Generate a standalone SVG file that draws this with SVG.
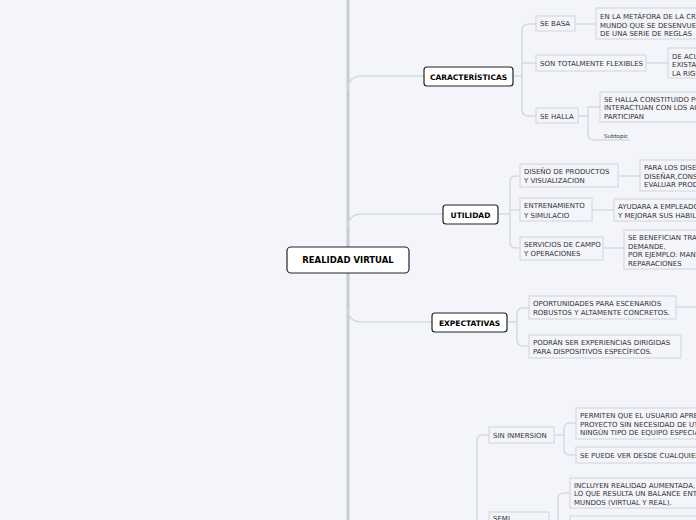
<svg xmlns="http://www.w3.org/2000/svg" width="696" height="520" viewBox="0 0 696 520">
<style>
text{font-family:"DejaVu Sans",Verdana,sans-serif;font-size:7px;fill:#333}
.m{font-weight:bold;font-size:7.5px;fill:#000}
.n{fill:#fff;stroke:#222;stroke-width:1.2}
.s{fill:#f3f5fb;stroke:#dcdfe6;stroke-width:1.5}
.c{fill:none;stroke:#d6d9df;stroke-width:1.5}
</style>
<rect width="696" height="520" fill="#f3f5fb"/>
<g id="connectors">
<path d="M348 0V520" stroke="#c8cbd0" stroke-width="3" fill="none"/>
<path class="c" d="M348 90Q348 76 362 76H424M348 228Q348 214 362 214H443M348 308Q348 322 362 322H432"/>
<path class="c" d="M513 76H522M522 30Q522 24 530 24H536M522 30V110Q522 116 530 116H536M522 63H536"/>
<path class="c" d="M575 24H596M646 63H668M578 116H588V107H600M588 116V134Q588 140 594 140H630"/>
<path class="c" d="M498 214H510M510 182Q510 176 516 176H520M510 182V242Q510 248 516 248H520M510 210H520"/>
<path class="c" d="M618 176H640M592 210H614M603 248H624"/>
<path class="c" d="M507 322H517M517 314Q517 308 523 308H529M517 314V340Q517 346 523 346H529M676 307H696"/>
<path class="c" d="M477 520V441Q477 435 483 435H489M554 435H564M564 429Q564 423 570 423H576M564 429V449Q564 455 570 455H576"/>
<path class="c" d="M558 520V499Q558 493 564 493H570"/>
</g>
<g id="center"><rect class="n" x="287" y="247" width="122" height="26" rx="4"/><text class="m" x="348" y="263" text-anchor="middle" style="font-size:8.5px">REALIDAD VIRTUAL</text></g>
<g id="caracteristicas"><rect class="n" x="424" y="67" width="89" height="19" rx="3"/><text class="m" x="468.5" y="79.5" text-anchor="middle">CARACTERÍSTICAS</text></g>
<g id="sebasa"><rect class="s" x="536" y="16" width="39" height="15"/><text x="540" y="26">SE BASA</text></g>
<g id="sebasa-t"><rect class="s" x="596" y="8" width="110" height="31"/><text x="600" y="19">EN LA METÁFORA DE LA CREACIÓN DE UN</text><text x="600" y="27.5">MUNDO QUE SE DESENVUELVE A PARTIR</text><text x="600" y="36">DE UNA SERIE DE REGLAS</text></g>
<g id="flex"><rect class="s" x="536" y="55" width="110" height="16"/><text x="540" y="66">SON TOTALMENTE FLEXIBLES</text></g>
<g id="flex-t"><rect class="s" x="668" y="48" width="40" height="30"/><text x="672" y="58.5">DE ACUERDO</text><text x="672" y="67">EXISTA</text><text x="672" y="75.5">LA RIGIDEZ</text></g>
<g id="sehalla"><rect class="s" x="536" y="108" width="42" height="15"/><text x="540" y="118.5">SE HALLA</text></g>
<g id="sehalla-t"><rect class="s" x="600" y="92" width="110" height="30"/><text x="604" y="101.5">SE HALLA CONSTITUIDO POR</text><text x="604" y="110">INTERACTUAN CON LOS AGENTES QUE</text><text x="604" y="118.5">PARTICIPAN</text></g>
<g id="subtopic"><text x="604" y="138" style="font-size:5.5px">Subtopic</text></g>
<g id="utilidad"><rect class="n" x="443" y="205" width="55" height="19" rx="3"/><text class="m" x="470.5" y="217.5" text-anchor="middle">UTILIDAD</text></g>
<g id="diseno"><rect class="s" x="520" y="164" width="98" height="23"/><text x="524" y="174">DISEÑO DE PRODUCTOS</text><text x="524" y="182.5">Y VISUALIZACION</text></g>
<g id="diseno-t"><rect class="s" x="640" y="160" width="70" height="31"/><text x="644" y="170">PARA LOS DISEÑADORES</text><text x="644" y="178.5">DISEÑAR,CONSTRUIR</text><text x="644" y="187">EVALUAR PRODUCTOS</text></g>
<g id="entren"><rect class="s" x="520" y="198" width="72" height="23"/><text x="524" y="208">ENTRENAMIENTO</text><text x="524" y="217.5">Y SIMULACIO</text></g>
<g id="entren-t"><rect class="s" x="614" y="199" width="96" height="22"/><text x="618" y="208.5">AYUDARA A EMPLEADOS</text><text x="618" y="217.5">Y MEJORAR SUS HABILIDADES</text></g>
<g id="servicios"><rect class="s" x="520" y="237" width="83" height="23"/><text x="524" y="247">SERVICIOS DE CAMPO</text><text x="524" y="255.5">Y OPERACIONES</text></g>
<g id="servicios-t"><rect class="s" x="624" y="230" width="86" height="39"/><text x="628" y="240">SE BENEFICIAN TRABAJOS</text><text x="628" y="248.5">DEMANDE,</text><text x="628" y="257">POR EJEMPLO: MANTENIMIENTO</text><text x="628" y="265.5">REPARACIONES</text></g>
<g id="expectativas"><rect class="n" x="432" y="313" width="75" height="19" rx="3"/><text class="m" x="469.5" y="325.5" text-anchor="middle">EXPECTATIVAS</text></g>
<g id="oport"><rect class="s" x="529" y="296" width="147" height="23"/><text x="533" y="306">OPORTUNIDADES PARA ESCENARIOS</text><text x="533" y="314.5">ROBUSTOS Y ALTAMENTE CONCRETOS.</text></g>
<g id="podran"><rect class="s" x="529" y="335" width="152" height="23"/><text x="533" y="345">PODRÁN SER EXPERIENCIAS DIRIGIDAS</text><text x="533" y="353.5">PARA DISPOSITIVOS ESPECÍFICOS.</text></g>
<g id="sininmersion"><rect class="s" x="489" y="427" width="65" height="16"/><text x="493" y="438">SIN INMERSION</text></g>
<g id="permiten"><rect class="s" x="576" y="408" width="130" height="31"/><text x="580" y="418">PERMITEN QUE EL USUARIO APRECIE EL</text><text x="580" y="426.5">PROYECTO SIN NECESIDAD DE UTILIZAR</text><text x="580" y="435">NINGÚN TIPO DE EQUIPO ESPECIAL</text></g>
<g id="sepuede"><rect class="s" x="576" y="447" width="130" height="16"/><text x="580" y="457.5">SE PUEDE VER DESDE CUALQUIER</text></g>
<g id="semi"><rect class="s" x="489" y="512" width="60" height="16"/><text x="493" y="520.5">SEMI</text></g>
<g id="incluyen"><rect class="s" x="570" y="478" width="136" height="30"/><text x="574" y="487.5">INCLUYEN REALIDAD AUMENTADA, POR</text><text x="574" y="496">LO QUE RESULTA UN BALANCE ENTRE LOS</text><text x="574" y="504.5">MUNDOS (VIRTUAL Y REAL).</text></g>
<g id="other"><rect class="s" x="570" y="516" width="136" height="16"/></g>
</svg>
